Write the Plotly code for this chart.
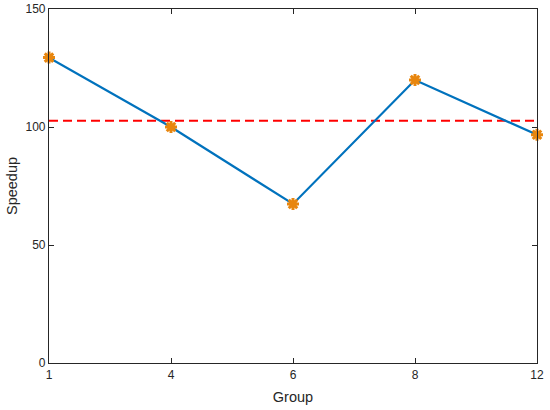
import plotly.graph_objects as go

groups = ["1", "4", "6", "8", "12"]
speedup = [129.4, 100.0, 67.4, 119.9, 96.7]
mean_speedup = sum(speedup) / len(speedup)

y_ticks = [0, 50, 100, 150]

pos = list(range(len(groups)))

fig = go.Figure()

# average line
fig.add_trace(go.Scatter(
    x=[pos[0], pos[-1]],
    y=[mean_speedup, mean_speedup],
    mode='lines',
    line=dict(color='#FF0000', width=2, dash='9px,5px'),
    hoverinfo='skip'
))

fig.add_trace(go.Scatter(
    x=pos,
    y=speedup,
    mode='lines+markers',
    line=dict(color='#0072BD', width=2.2),
    marker=dict(symbol='asterisk-open', size=10, color='#E8860E',
                line=dict(color='#E8860E', width=3)),
    cliponaxis=False
))

axis_common = dict(
    showline=True, linecolor='#262626', linewidth=1.2, mirror='ticks',
    ticks='inside', ticklen=5, tickcolor='#262626', tickwidth=1,
    showgrid=False, zeroline=False, automargin=False,
    tickfont=dict(family='Liberation Sans, Arial, sans-serif', size=12, color='#262626'),
)

fig.update_layout(
    width=550, height=410,
    margin=dict(l=49, r=13, t=9, b=47),
    plot_bgcolor='white', paper_bgcolor='white',
    showlegend=False,
    font=dict(family='Liberation Sans, Arial, sans-serif', color='#262626'),
)
fig.update_xaxes(
    range=[pos[0], pos[-1]], tickvals=pos, ticktext=groups,
    title=dict(text='Group', font=dict(size=14.5), standoff=11),
    **axis_common
)
fig.update_yaxes(
    range=[0, 150], tickvals=y_ticks,
    title=dict(text='Speedup', font=dict(size=14.5), standoff=4),
    **axis_common
)

# drop the default 8px body margin so the figure sits at the page corner
fig.write_html("out.html", config={'displayModeBar': False},
               post_script="document.body.style.margin='0px';")
